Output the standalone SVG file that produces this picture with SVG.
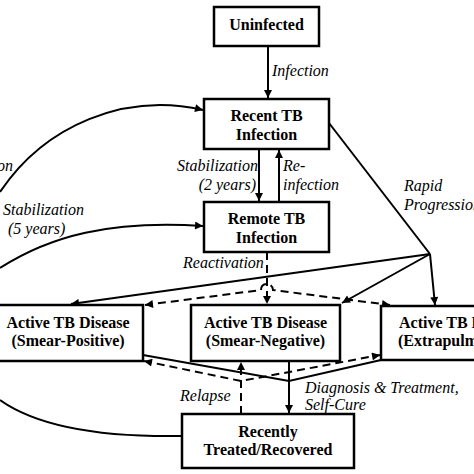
<svg xmlns="http://www.w3.org/2000/svg" width="474" height="474" viewBox="0 0 474 474">
<style>
.box{fill:#fff;stroke:#000;stroke-width:2.5}
.nt{font-family:"Liberation Serif","Times New Roman",serif;font-weight:bold;font-size:16px;fill:#000;text-anchor:middle}
.lb{font-family:"Liberation Serif","Times New Roman",serif;font-style:italic;font-size:16px;fill:#000}
.ln{fill:none;stroke:#000;stroke-width:2}
.ds{fill:none;stroke:#000;stroke-width:2;stroke-dasharray:8 5}
</style>
<defs>
<marker id="arr" viewBox="0 0 10 10" refX="10" refY="5" markerWidth="9" markerHeight="8" markerUnits="userSpaceOnUse" orient="auto-start-reverse">
<path d="M0,0 L10,5 L0,10 z" fill="#000"/>
</marker>
</defs>
<rect width="474" height="474" fill="#fff"/>
<g id="connectors">
<path class="ln" d="M268 46 L268 98" marker-end="url(#arr)"/>
<path class="ln" d="M259 149 L259 201" marker-end="url(#arr)"/>
<path class="ln" d="M279 202 L279 150" marker-end="url(#arr)"/>
<path class="ln" d="M329 123 L430 254"/>
<path class="ln" d="M430 254 L435 305" marker-end="url(#arr)"/>
<path class="ln" d="M430 254 L71 304" marker-end="url(#arr)"/>
<path class="ln" d="M430 254 L342 303" marker-end="url(#arr)"/>
<path class="ds" d="M267 252 L267 304" marker-end="url(#arr)"/>
<path class="ds" d="M145 305 L261 290 A6 6 0 0 1 273 290 L390 305" marker-start="url(#arr)" marker-end="url(#arr)"/>
<path class="ln" d="M143 355 L289 381 L381 360"/>
<path class="ln" d="M289 361 L289 413" marker-end="url(#arr)"/>
<path class="ds" d="M241 414 L241 362" marker-end="url(#arr)"/>
<path class="ds" d="M144 361 L241 381 L380 355" marker-start="url(#arr)" marker-end="url(#arr)"/>
<path class="ln" d="M0 192 C45 125 125 92 203 110" marker-end="url(#arr)"/>
<path class="ln" d="M0 268 C50 236 110 220 203 226" marker-end="url(#arr)"/>
<path class="ln" d="M182 436 C120 437 45 432 0 400"/>
</g>
<g id="uninfected">
<rect class="box" x="214" y="7" width="105" height="39"/>
<text class="nt" x="266.5" y="30">Uninfected</text>
</g>
<g id="recent">
<rect class="box" x="204" y="99" width="125" height="50"/>
<text class="nt" x="266.5" y="121">Recent TB</text>
<text class="nt" x="266.5" y="140">Infection</text>
</g>
<g id="remote">
<rect class="box" x="204" y="202" width="125" height="50"/>
<text class="nt" x="266.5" y="224">Remote TB</text>
<text class="nt" x="266.5" y="243">Infection</text>
</g>
<g id="smearpos">
<rect class="box" x="-4" y="305" width="147" height="56"/>
<text class="nt" x="68" y="328">Active TB Disease</text>
<text class="nt" x="68" y="346">(Smear-Positive)</text>
</g>
<g id="smearneg">
<rect class="box" x="191" y="305" width="149" height="56"/>
<text class="nt" x="265.5" y="328">Active TB Disease</text>
<text class="nt" x="265.5" y="346">(Smear-Negative)</text>
</g>
<g id="extrapulmonary">
<rect class="box" x="381" y="306" width="160" height="54"/>
<text class="nt" style="text-anchor:start" x="399" y="328">Active TB Disease</text>
<text class="nt" style="text-anchor:start" x="398" y="346">(Extrapulmonary)</text>
</g>
<g id="recovered">
<rect class="box" x="182" y="414" width="172" height="54"/>
<text class="nt" x="268" y="437">Recently</text>
<text class="nt" x="268" y="455">Treated/Recovered</text>
</g>
<g id="labels">
<text class="lb" x="272" y="76">Infection</text>
<text class="lb" x="258" y="171" text-anchor="end">Stabilization</text>
<text class="lb" x="256" y="190" text-anchor="end">(2 years)</text>
<text class="lb" x="283" y="171">Re-</text>
<text class="lb" x="283" y="190">infection</text>
<text class="lb" x="404" y="191">Rapid</text>
<text class="lb" x="404" y="210">Progression</text>
<text class="lb" x="13" y="171" text-anchor="end">on</text>
<text class="lb" x="3" y="215">Stabilization</text>
<text class="lb" x="8" y="234">(5 years)</text>
<text class="lb" x="183" y="268">Reactivation</text>
<text class="lb" x="180" y="401">Relapse</text>
<text class="lb" x="305" y="393">Diagnosis &amp; Treatment,</text>
<text class="lb" x="305" y="410">Self-Cure</text>
</g>
</svg>
